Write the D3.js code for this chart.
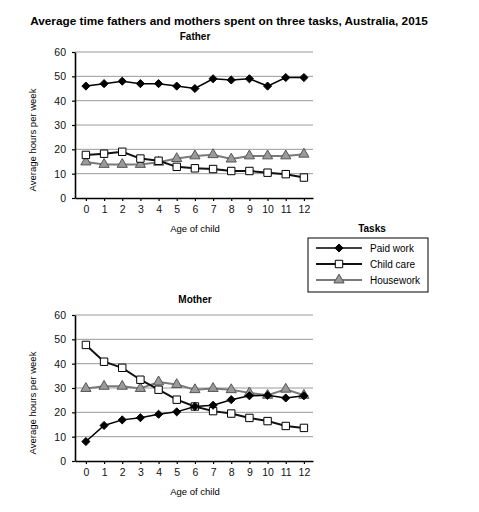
<!DOCTYPE html>
<html>
<head>
<meta charset="utf-8">
<script src="https://cdn.jsdelivr.net/npm/d3@7"></script>
<style>
  body { margin: 0; background: #fff; }
  text { font-family: "Liberation Sans", Arial, sans-serif; }
</style>
</head>
<body>
<div id="chart"></div>
<script>
// Chart values.
var ages = [0, 1, 2, 3, 4, 5, 6, 7, 8, 9, 10, 11, 12];
var yTicks = [0, 10, 20, 30, 40, 50, 60];
var taskNames = ['Paid work', 'Child care', 'Housework'];

var fatherPaid = [46, 47, 48, 47, 47, 46, 45, 49, 48.5, 49, 46, 49.5, 49.5];
var fatherCare = [17.7, 18.2, 19, 16.2, 15.3, 12.8, 12.2, 11.9, 11.1, 11.1, 10.4, 9.8, 8.4];
var fatherHouse = [14.8, 13.8, 13.8, 13.8, 14.7, 16.2, 17.3, 17.8, 16, 17.3, 17.3, 17.3, 18];

var motherPaid = [8, 14.6, 16.9, 17.8, 19.2, 20.2, 22.4, 22.9, 25.2, 26.8, 27, 25.9, 26.8];
var motherCare = [47.7, 40.8, 38.3, 33.4, 29.3, 25.2, 22.4, 20.5, 19.5, 17.7, 16.4, 14.4, 13.6];
var motherHouse = [29.8, 30.7, 30.7, 29.8, 32.5, 31.4, 29.3, 29.8, 29.3, 28, 27, 29.5, 27];

var width = 479, height = 512;

var svg = d3.select('#chart')
    .append('svg')
        .attr('width', width)
        .attr('height', height);

// Main title.
svg.append('text')
    .attr('x', 229)
    .attr('y', 25)
    .attr('text-anchor', 'middle')
    .style('font-size', '11.8px')
    .style('font-weight', 'bold')
    .text('Average time fathers and mothers spent on three tasks, Australia, 2015');

// Styles for each task.
var styles = {
    'Paid work':  {stroke: '#000', width: 1.5, shape: d3.symbolDiamond2, size: 42, fill: '#000', mstroke: '#000'},
    'Child care': {stroke: '#111', width: 2, shape: d3.symbolSquare, size: 55, fill: '#fff', mstroke: '#000'},
    'Housework':  {stroke: '#7a7a7a', width: 2, shape: d3.symbolTriangle, size: 45, fill: '#9a9a9a', mstroke: '#555'}
};

// x scale shared by both panels.
var x = d3.scaleLinear()
    .domain([-0.6, 12.5])
    .range([75, 313]);

function drawPanel(title, top, series) {
    var y = d3.scaleLinear()
        .domain([0, 60])
        .range([top + 146, top]);

    // Panel title.
    svg.append('text')
        .attr('x', 195)
        .attr('y', top - 12)
        .attr('text-anchor', 'middle')
        .style('font-size', '10px')
        .style('font-weight', 'bold')
        .text(title);

    // Gridlines.
    svg.append('g')
        .selectAll('line')
        .data(yTicks.slice(1))
        .enter().append('line')
            .attr('x1', x.range()[0])
            .attr('x2', x.range()[1])
            .attr('y1', function(d){ return y(d); })
            .attr('y2', function(d){ return y(d); })
            .attr('stroke', '#9a9a9a')
            .attr('stroke-width', 1);

    // y-axis.
    var yAxis = svg.append('g')
        .attr('transform', 'translate(' + x.range()[0] + ',0)')
        .call(d3.axisLeft(y).tickValues(yTicks).tickSize(3).tickPadding(6).tickSizeOuter(0));

    // x-axis.
    var xAxis = svg.append('g')
        .attr('transform', 'translate(0,' + y(0) + ')')
        .call(d3.axisBottom(x).tickValues(ages).tickSize(3).tickPadding(5).tickSizeOuter(0));

    [yAxis, xAxis].forEach(function(a){
        a.select('.domain').attr('stroke', '#000').attr('stroke-width', 1.6);
        a.selectAll('.tick line').attr('stroke', '#000').attr('stroke-width', 1.2);
        a.selectAll('.tick text')
            .style('font-size', '10.5px')
            .style('font-family', '"Liberation Sans", Arial, sans-serif')
            .attr('fill', '#111');
    });

    // Axis titles.
    svg.append('text')
        .attr('x', 195)
        .attr('y', y(0) + 34)
        .attr('text-anchor', 'middle')
        .style('font-size', '9.5px')
        .text('Age of child');

    svg.append('text')
        .attr('transform', 'translate(36,' + (top + 88) + ') rotate(-90)')
        .attr('text-anchor', 'middle')
        .style('font-size', '9.5px')
        .text('Average hours per week');

    // Lines and markers, housework drawn first so black lines sit on top.
    var order = [2, 1, 0];
    order.forEach(function(i){
        var name = taskNames[i];
        var st = styles[name];
        var vals = series[i];
        var line = d3.line()
            .x(function(d, j){ return x(ages[j]); })
            .y(function(d){ return y(d); });
        svg.append('path')
            .datum(vals)
            .attr('d', line)
            .attr('fill', 'none')
            .attr('stroke', st.stroke)
            .attr('stroke-width', st.width);
        svg.append('g')
            .selectAll('path')
            .data(vals)
            .enter().append('path')
                .attr('d', d3.symbol().type(st.shape).size(st.size))
                .attr('transform', function(d, j){ return 'translate(' + x(ages[j]) + ',' + y(d) + ')'; })
                .attr('fill', st.fill)
                .attr('stroke', st.mstroke)
                .attr('stroke-width', 1);
    });
}

drawPanel('Father', 52, [fatherPaid, fatherCare, fatherHouse]);
drawPanel('Mother', 315, [motherPaid, motherCare, motherHouse]);

// Legend.
svg.append('text')
    .attr('x', 372)
    .attr('y', 232)
    .attr('text-anchor', 'middle')
    .style('font-size', '10px')
    .style('font-weight', 'bold')
    .text('Tasks');

svg.append('rect')
    .attr('x', 308)
    .attr('y', 238)
    .attr('width', 120)
    .attr('height', 54)
    .attr('fill', '#fff')
    .attr('stroke', '#000')
    .attr('stroke-width', 1);

var legend = svg.selectAll('.legend-row')
    .data(taskNames)
    .enter().append('g')
        .attr('class', 'legend-row')
        .attr('transform', function(d, i){ return 'translate(0,' + (248 + i * 16) + ')'; });

legend.append('line')
    .attr('x1', 316)
    .attr('x2', 362)
    .attr('stroke', function(d){ return styles[d].stroke; })
    .attr('stroke-width', function(d){ return styles[d].width; });

legend.append('path')
    .attr('d', function(d){ return d3.symbol().type(styles[d].shape).size(styles[d].size)(); })
    .attr('transform', 'translate(339,0)')
    .attr('fill', function(d){ return styles[d].fill; })
    .attr('stroke', function(d){ return styles[d].mstroke; })
    .attr('stroke-width', 1);

legend.append('text')
    .attr('x', 370)
    .attr('y', 3.5)
    .style('font-size', '10px')
    .text(function(d){ return d; });
</script>
</body>
</html>
